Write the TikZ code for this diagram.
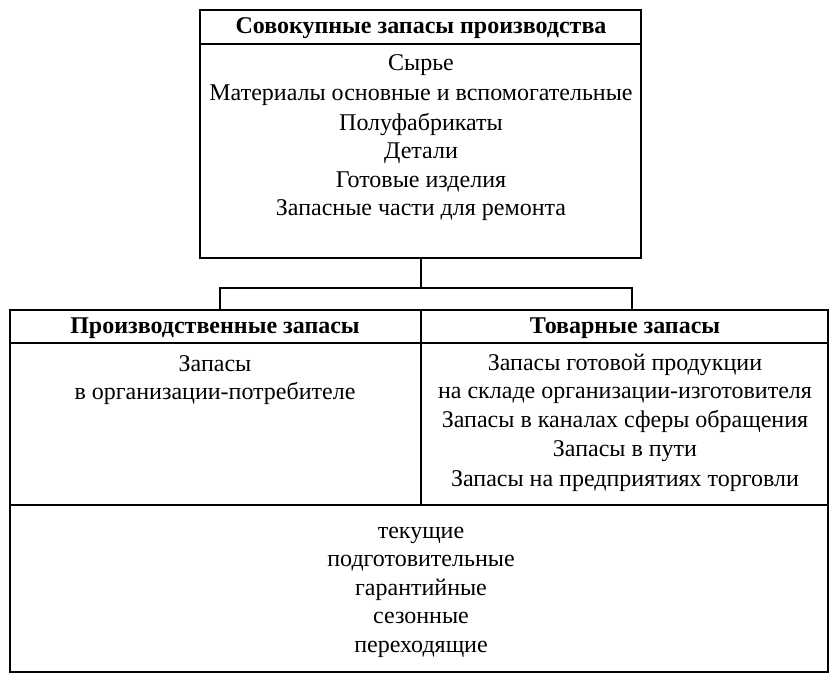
\documentclass[tikz,border=0pt]{standalone}
\usepackage{fontspec}
\setmainfont{Liberation Serif}
\begin{document}
\begin{tikzpicture}[x=0.75pt,y=-0.75pt,
  ln/.style={draw=black,line width=1.1pt},
  txt/.style={font=\fontsize{18}{21}\selectfont,inner sep=0pt,anchor=center,text height=12.5pt,text depth=3.5pt},
  hd/.style={txt,font=\fontsize{18}{21}\selectfont\bfseries}]
\useasboundingbox (0,0) rectangle (836,682);
\fill[white] (0,0) rectangle (836,682);
\coordinate (t1) at (200,10); \coordinate (t2) at (641,258);
\draw[ln] (t1) rectangle (t2);
\draw[ln] (200,44) -- (641,44);
\node[hd] (th) at (421,27) {Совокупные запасы производства};
\node[txt] (a1) at (421,64) {Сырье};
\node[txt] (a2) at (421,94) {Материалы основные и вспомогательные};
\node[txt] (a3) at (421,124) {Полуфабрикаты};
\node[txt] (a4) at (421,152) {Детали};
\node[txt] (a5) at (421,181) {Готовые изделия};
\node[txt] (a6) at (421,209) {Запасные части для ремонта};
\coordinate (tb) at (421,258);
\coordinate (j) at (421,288);
\coordinate (jl) at (220,288); \coordinate (jr) at (632,288);
\coordinate (bl) at (220,310); \coordinate (br) at (632,310);
\draw[ln] (tb) -- (j);
\draw[ln] (bl) -- (jl) -- (jr) -- (br);
\draw[ln] (10,310) rectangle (828,672);
\draw[ln] (10,343) -- (828,343);
\draw[ln] (421,310) -- (421,505);
\draw[ln] (10,505) -- (828,505);
\node[hd] (lh) at (215,327) {Производственные запасы};
\node[hd] (rh) at (625,327) {Товарные запасы};
\node[txt] (l1) at (215,365) {Запасы};
\node[txt] (l2) at (215,393) {в организации-потребителе};
\node[txt] (r1) at (625,364) {Запасы готовой продукции};
\node[txt] (r2) at (625,392) {на складе организации-изготовителя};
\node[txt] (r3) at (625,421) {Запасы в каналах сферы обращения};
\node[txt] (r4) at (625,450) {Запасы в пути};
\node[txt] (r5) at (625,480) {Запасы на предприятиях торговли};
\node[txt] (b1) at (421,532) {текущие};
\node[txt] (b2) at (421,560) {подготовительные};
\node[txt] (b3) at (421,589) {гарантийные};
\node[txt] (b4) at (421,617) {сезонные};
\node[txt] (b5) at (421,646) {переходящие};
\end{tikzpicture}
\end{document}
